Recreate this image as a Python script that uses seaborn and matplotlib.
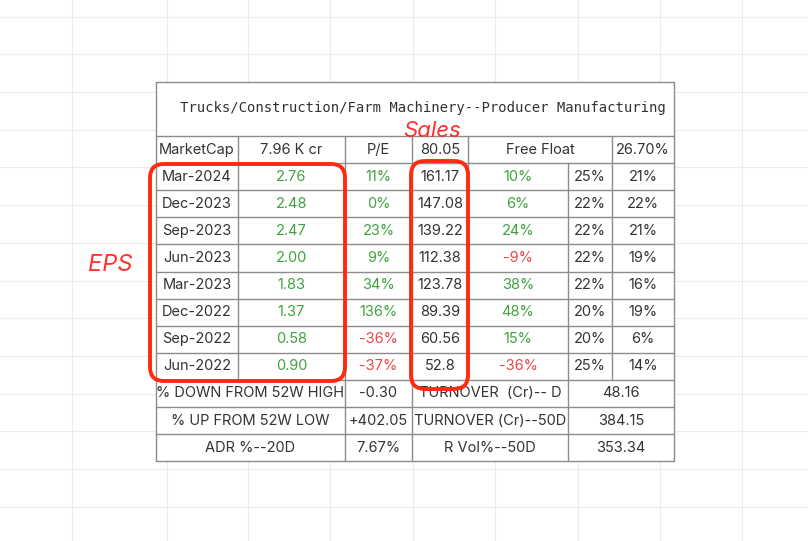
import matplotlib
matplotlib.use("Agg")
import matplotlib.pyplot as plt
from matplotlib.patches import FancyBboxPatch
import seaborn as sns

sns.set_theme(style="white")
plt.rcParams['font.family'] = ['Inter', 'DejaVu Sans']

title = "Trucks/Construction/Farm Machinery--Producer Manufacturing"
quarters = ["Mar-2024", "Dec-2023", "Sep-2023", "Jun-2023", "Mar-2023", "Dec-2022", "Sep-2022", "Jun-2022"]
eps = ["2.76", "2.48", "2.47", "2.00", "1.83", "1.37", "0.58", "0.90"]
eps_chg = ["11%", "0%", "23%", "9%", "34%", "136%", "-36%", "-37%"]
sales = ["161.17", "147.08", "139.22", "112.38", "123.78", "89.39", "60.56", "52.8"]
sales_chg = ["10%", "6%", "24%", "-9%", "38%", "48%", "15%", "-36%"]
col6 = ["25%", "22%", "22%", "22%", "22%", "20%", "20%", "25%"]
col7 = ["21%", "22%", "21%", "19%", "16%", "19%", "6%", "14%"]
head = ["MarketCap", "7.96 K cr", "P/E", "80.05", "Free Float", "26.70%"]
foot = [["% DOWN FROM 52W HIGH", "-0.30", "TURNOVER  (Cr)-- D", "48.16"],
        ["% UP FROM 52W LOW", "+402.05", "TURNOVER (Cr)--50D", "384.15"],
        ["ADR %--20D", "7.67%", "R Vol%--50D", "353.34"]]

GREEN, RED, DARK, LINE = "#3fa23f", "#f04545", "#333333", "#8c8c8c"

fig = plt.figure(figsize=(8.08, 5.41), dpi=100)
ax = fig.add_axes([0, 0, 1, 1])
ax.set_xlim(0, 808)
ax.set_ylim(541, 0)
ax.axis("off")

# spreadsheet-like background grid
for gx in [72, 167, 248, 330, 413, 495, 578, 660, 742]:
    ax.axvline(gx, color="#ececec", lw=0.8, zorder=0)
for gy in [17, 54, 92, 130, 167, 205, 243, 281, 318, 356, 394, 431, 469, 507]:
    ax.axhline(gy, color="#ececec", lw=0.8, zorder=0)

L, R, T = 156, 674, 82
top0 = 136
rh = 27.1
xs = [156, 238, 345, 412, 468, 568, 612, 674]
ax.add_patch(plt.Rectangle((L, T), R - L, top0 + 12 * rh - T, fc="white", ec="none", zorder=1))


def hline(y, x0=L, x1=R):
    ax.plot([x0, x1], [y, y], color=LINE, lw=1, zorder=2)


def vline(x, y0, y1):
    ax.plot([x, x], [y0, y1], color=LINE, lw=1, zorder=2)


def cell(x0, x1, r, s, color=DARK):
    ax.text((x0 + x1) / 2, top0 + (r + 0.5) * rh, s, ha="center", va="center",
            fontsize=10.5, color=color, zorder=3)


bottom = top0 + 12 * rh
hline(T)
for i in range(13):
    hline(top0 + i * rh)
vline(L, T, bottom)
vline(R, T, bottom)
ax.text(423, (T + top0) / 2 - 1, title, ha="center", va="center",
        fontsize=10, family="DejaVu Sans Mono", color=DARK, zorder=3)

# header row
hx = [156, 238, 345, 412, 468, 612, 674]
for x in hx[1:-1]:
    vline(x, top0, top0 + rh)
for j, s in enumerate(head):
    cell(hx[j], hx[j + 1], 0, s)

# quarterly rows
for x in xs[1:-1]:
    vline(x, top0 + rh, top0 + 9 * rh)
for i in range(8):
    r = i + 1
    cell(xs[0], xs[1], r, quarters[i])
    cell(xs[1], xs[2], r, eps[i], GREEN)
    cell(xs[2], xs[3], r, eps_chg[i], RED if eps_chg[i].startswith("-") else GREEN)
    cell(xs[3], xs[4], r, sales[i])
    cell(xs[4], xs[5], r, sales_chg[i], RED if sales_chg[i].startswith("-") else GREEN)
    cell(xs[5], xs[6], r, col6[i])
    cell(xs[6], xs[7], r, col7[i])

# footer rows
fx = [156, 345, 412, 568, 674]
for x in fx[1:-1]:
    vline(x, top0 + 9 * rh, bottom)
for i, row in enumerate(foot):
    for j, s in enumerate(row):
        cell(fx[j], fx[j + 1], 9 + i, s)

# red annotations
ax.add_patch(FancyBboxPatch((150, 164), 195, 217, boxstyle="round,pad=0,rounding_size=14",
                            fc="none", ec="#ff2a10", lw=2.8, zorder=4))
ax.add_patch(FancyBboxPatch((411, 161), 57, 228, boxstyle="round,pad=0,rounding_size=14",
                            fc="none", ec="#ff2a10", lw=2.8, zorder=4))
ax.text(432, 131, "Sales", ha="center", va="center", fontsize=16, style="italic",
        color="#ff3030", zorder=5)
ax.text(110, 265, "EPS", ha="center", va="center", fontsize=17, style="italic",
        color="#ff3030", zorder=5)

fig.savefig("out.png", dpi=100)
